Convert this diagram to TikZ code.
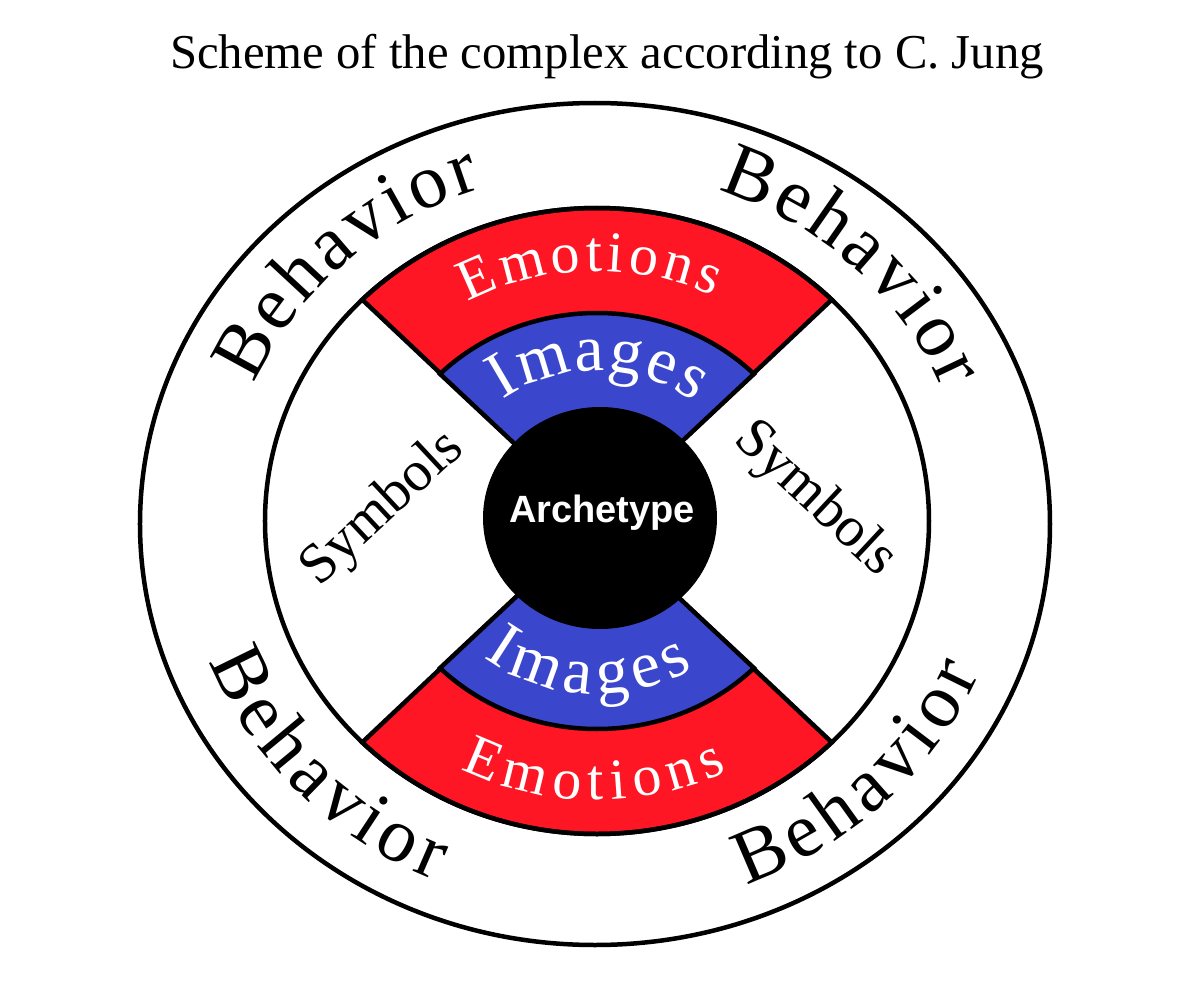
\documentclass[tikz,border=0pt]{standalone}
\usepackage{fontspec}
\setmainfont{Liberation Serif}
\newfontfamily\archfont{Liberation Sans}
\usetikzlibrary{decorations.text}
\definecolor{emored}{RGB}{254,22,36}
\definecolor{imgblue}{RGB}{58,71,204}
\begin{document}
\begin{tikzpicture}[x=1pt,y=1pt,
	ring/.style={line width=4.5pt},
	edge/.style={line width=4.5pt},
	bent/.style n args={3}{decorate,decoration={text along path,text align={fit to path},text color=#1,text={|\fontsize{#2}{#2}\selectfont|#3}}}]
		\useasboundingbox (-597,-473) rectangle (603,521);
		\node[anchor=base,font=\fontsize{48.7}{48.7}\selectfont] (title) at (10,452) {Scheme of the complex according to C. Jung};
		\draw[ring] (-2,-3) ellipse [x radius=455,y radius=421];
		% red and blue sectors
		\foreach \a in {45,225} {
			\draw[edge,fill=emored] (0,0) -- (\a:332 and 313) arc[start angle=\a,end angle=\a+90,x radius=332,y radius=313] -- cycle;
			\draw[edge,fill=imgblue] (0,0) -- (\a:222 and 208) arc[start angle=\a,end angle=\a+90,x radius=222,y radius=208] -- cycle;
		}
		\draw[ring] (0,0) ellipse [x radius=332,y radius=313];
		\fill (3,3) ellipse [x radius=117,y radius=111];
		\node[anchor=base,text=white,font=\archfont\bfseries\fontsize{38}{38}\selectfont] (arch) at (5,-1) {Archetype};
		% curved labels
		\foreach \s/\e/\r in {157/108/350,71/22/350,201/247/390,291/337/390} {
			\pgfmathsetmacro\rx{1.065*\r}
			\path[bent={black}{77}{Behavior}] (\s:{\rx} and {\r}) arc[start angle=\s,end angle=\e,x radius=\rx,y radius=\r];
		}
		\foreach \s/\e/\r in {119/64/250,242.6/296/279} {
			\pgfmathsetmacro\rx{1.065*\r}
			\path[bent={white}{58}{Emotions}] (\s:{\rx} and {\r}) arc[start angle=\s,end angle=\e,x radius=\rx,y radius=\r];
		}
		\foreach \s/\e/\r in {126/52.5/150,232/301.5/173} {
			\pgfmathsetmacro\rx{1.065*\r}
			\path[bent={white}{66}{Images}] (\s:{\rx} and {\r}) arc[start angle=\s,end angle=\e,x radius=\rx,y radius=\r];
		}
		\node[rotate=43,font=\fontsize{57}{57}\selectfont] (symleft) at (-214,12) {Symbols};
		\node[rotate=-43,font=\fontsize{57}{57}\selectfont] (symright) at (218,21) {Symbols};
\end{tikzpicture}
\end{document}
